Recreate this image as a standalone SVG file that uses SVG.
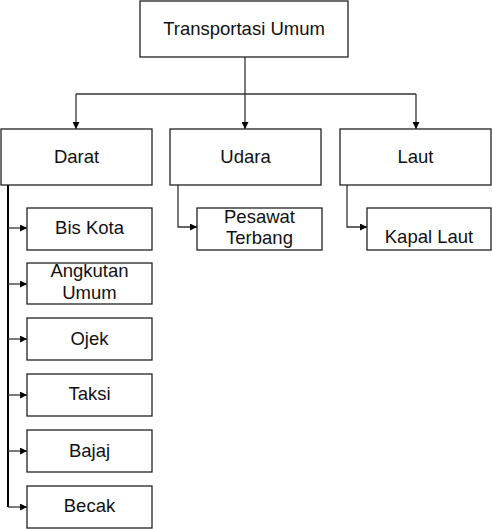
<svg xmlns="http://www.w3.org/2000/svg" width="492" height="529" viewBox="0 0 492 529">
<defs>
<marker id="arr" viewBox="0 0 10 10" refX="10" refY="5" markerWidth="7" markerHeight="7" markerUnits="userSpaceOnUse" orient="auto">
<path d="M0,0 L10,5 L0,10 Z" fill="#000"/>
</marker>
<style>
.box{fill:#fff;stroke:#222;stroke-width:1.3}
.t{font-family:"Liberation Sans",Arial,sans-serif;font-size:18.5px;fill:#111;text-anchor:middle}
.c{fill:none;stroke:#333;stroke-width:1.3}
</style>
</defs>
<rect width="492" height="529" fill="#fff"/>
<g id="connectors">
<path class="c" d="M245,57 V94"/>
<path class="c" d="M76,94 H416"/>
<path class="c" d="M76,94 V129" marker-end="url(#arr)"/>
<path class="c" d="M245,94 V129" marker-end="url(#arr)"/>
<path class="c" d="M416,94 V129" marker-end="url(#arr)"/>
<path fill="none" stroke="#000" stroke-width="2" d="M8,185 V507"/>
<path class="c" d="M8,228 H27" marker-end="url(#arr)"/>
<path class="c" d="M8,284 H27" marker-end="url(#arr)"/>
<path class="c" d="M8,339 H27" marker-end="url(#arr)"/>
<path class="c" d="M8,395 H27" marker-end="url(#arr)"/>
<path class="c" d="M8,451 H27" marker-end="url(#arr)"/>
<path class="c" d="M8,507 H27" marker-end="url(#arr)"/>
<path class="c" d="M178,185 V227 H197" marker-end="url(#arr)"/>
<path class="c" d="M347,185 V227 H367" marker-end="url(#arr)"/>
</g>
<g id="transportasi-umum"><rect class="box" x="140" y="1" width="208" height="56"/><text class="t" x="244" y="35">Transportasi Umum</text></g>
<g id="darat"><rect class="box" x="1" y="129" width="151" height="56"/><text class="t" x="76.5" y="163">Darat</text></g>
<g id="udara"><rect class="box" x="170" y="129" width="151" height="56"/><text class="t" x="245.5" y="163">Udara</text></g>
<g id="laut"><rect class="box" x="340" y="129" width="151" height="56"/><text class="t" x="415.5" y="163">Laut</text></g>
<g id="bis-kota"><rect class="box" x="27" y="208" width="125" height="42"/><text class="t" x="89.5" y="234">Bis Kota</text></g>
<g id="angkutan-umum"><rect class="box" x="27" y="263" width="125" height="41"/><text class="t" x="89.5" y="277">Angkutan</text><text class="t" x="89.5" y="299">Umum</text></g>
<g id="ojek"><rect class="box" x="27" y="318" width="125" height="42"/><text class="t" x="89.5" y="345">Ojek</text></g>
<g id="taksi"><rect class="box" x="27" y="374" width="125" height="42"/><text class="t" x="89.5" y="400">Taksi</text></g>
<g id="bajaj"><rect class="box" x="27" y="430" width="125" height="42"/><text class="t" x="89.5" y="457">Bajaj</text></g>
<g id="becak"><rect class="box" x="27" y="486" width="125" height="42"/><text class="t" x="89.5" y="512">Becak</text></g>
<g id="pesawat-terbang"><rect class="box" x="197" y="208" width="125" height="42"/><text class="t" x="259.5" y="223">Pesawat</text><text class="t" x="259.5" y="244">Terbang</text></g>
<g id="kapal-laut"><rect class="box" x="367" y="208" width="124" height="42"/><text class="t" x="429" y="243">Kapal Laut</text></g>
</svg>
